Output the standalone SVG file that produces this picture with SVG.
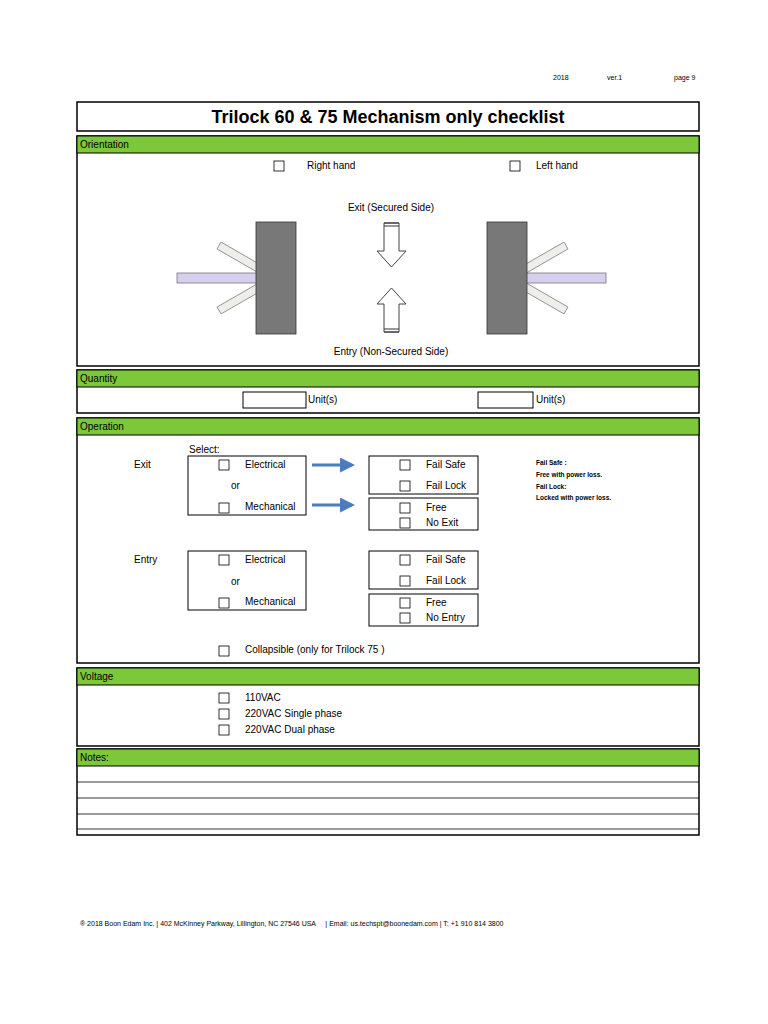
<svg xmlns="http://www.w3.org/2000/svg" width="768" height="1024" viewBox="0 0 768 1024">
<style>
text{font-family:"Liberation Sans",Arial,sans-serif;font-size:10px;fill:#000}
.s{font-size:7px}
.b{fill:none;stroke:#000;stroke-width:1.5}
.t{fill:none;stroke:#000;stroke-width:1}
.g{fill:#7dc83a;stroke:#000;stroke-width:1}
.cb{fill:#fff;stroke:#000;stroke-width:0.8}
.arm{fill:#eeeeea;stroke:#888;stroke-width:0.8}
.pur{fill:#d6d0ee;stroke:#777;stroke-width:0.8}
.post{fill:#787878;stroke:#333;stroke-width:0.8}
.ar{fill:#fff;stroke:#444;stroke-width:1}
.bl{stroke:#4a7cc0;stroke-width:3}
.n{font-size:6.5px;font-weight:bold}
</style>
<defs>
<rect id="cb" width="10" height="10" class="cb"/>
<marker id="m" markerWidth="5" markerHeight="5" refX="4" refY="2.5" orient="auto" markerUnits="strokeWidth"><path d="M0,0 L5,2.5 L0,5 Z" fill="#4a7cc0"/></marker>
</defs>
<rect width="768" height="1024" fill="#fff"/>
<text class="s" x="553" y="80">2018</text>
<text class="s" x="607" y="80">ver.1</text>
<text class="s" x="674" y="80">page 9</text>
<g id="title"><rect x="77" y="102" width="622" height="29" class="b"/>
<text x="388" y="123" text-anchor="middle" style="font-size:18px;font-weight:bold">Trilock 60 &amp; 75 Mechanism only checklist</text></g>
<g id="orientation">
<rect x="77" y="136" width="622" height="230" class="b"/>
<rect x="77" y="136" width="622" height="17" class="g"/>
<text x="80" y="148">Orientation</text>
<use href="#cb" x="274" y="161"/><text x="307" y="169">Right hand</text>
<use href="#cb" x="510" y="161"/><text x="536" y="169">Left hand</text>
<text x="391" y="211" text-anchor="middle">Exit (Secured Side)</text>
<text x="391" y="355" text-anchor="middle">Entry (Non-Secured Side)</text>
<rect x="-45" y="-4" width="50" height="8" class="arm" transform="translate(258,268) rotate(30)"/>
<rect x="-45" y="-4" width="50" height="8" class="arm" transform="translate(258,288) rotate(-30)"/>
<rect x="177" y="273" width="82" height="10" class="pur"/>
<rect x="256" y="222" width="40" height="112" class="post"/>
<rect x="-5" y="-4" width="50" height="8" class="arm" transform="translate(527,268) rotate(-30)"/>
<rect x="-5" y="-4" width="50" height="8" class="arm" transform="translate(527,288) rotate(30)"/>
<rect x="526" y="273" width="80" height="10" class="pur"/>
<rect x="487" y="222" width="40" height="112" class="post"/>
<path d="M384,223 H399 V251 H406 L391.5,267 L377,251 H384 Z" class="ar"/>
<path d="M384,223 H399 M384,226 H399" stroke="#333"/>
<path d="M384,332 H399 V304 H406 L391.5,288 L377,304 H384 Z" class="ar"/>
<path d="M384,332 H399 M384,329 H399" stroke="#333"/>
</g>
<g id="quantity">
<rect x="77" y="370" width="622" height="43" class="b"/>
<rect x="77" y="370" width="622" height="17" class="g"/>
<text x="80" y="382">Quantity</text>
<rect x="243" y="392" width="63" height="16" class="t"/><text x="308" y="403">Unit(s)</text>
<rect x="478" y="392" width="55" height="16" class="t"/><text x="536" y="403">Unit(s)</text>
</g>
<g id="operation">
<rect x="77" y="418" width="622" height="245" class="b"/>
<rect x="77" y="418" width="622" height="17" class="g"/>
<text x="80" y="430">Operation</text>
<text x="189" y="453">Select:</text>
<text x="134" y="468">Exit</text>
<rect x="188" y="456" width="118" height="59" class="t"/>
<use href="#cb" x="219" y="460"/><text x="245" y="468">Electrical</text>
<text x="231" y="489">or</text>
<use href="#cb" x="219" y="503"/><text x="245" y="510">Mechanical</text>
<rect x="369" y="456" width="109" height="38" class="t"/>
<use href="#cb" x="400" y="460"/><text x="426" y="468">Fail Safe</text>
<use href="#cb" x="400" y="481"/><text x="426" y="489">Fail Lock</text>
<rect x="369" y="498" width="109" height="32" class="t"/>
<use href="#cb" x="400" y="503"/><text x="426" y="511">Free</text>
<use href="#cb" x="400" y="518"/><text x="426" y="526">No Exit</text>
<text class="n" x="536" y="465">Fail Safe :</text>
<text class="n" x="536" y="477">Free with power loss.</text>
<text class="n" x="536" y="489">Fail Lock:</text>
<text class="n" x="536" y="500">Locked with power loss.</text>
<text x="134" y="563">Entry</text>
<rect x="188" y="551" width="118" height="59" class="t"/>
<use href="#cb" x="219" y="555"/><text x="245" y="563">Electrical</text>
<text x="231" y="585">or</text>
<use href="#cb" x="219" y="598"/><text x="245" y="605">Mechanical</text>
<rect x="369" y="551" width="109" height="38" class="t"/>
<use href="#cb" x="400" y="555"/><text x="426" y="563">Fail Safe</text>
<use href="#cb" x="400" y="576"/><text x="426" y="584">Fail Lock</text>
<rect x="369" y="594" width="109" height="32" class="t"/>
<use href="#cb" x="400" y="598"/><text x="426" y="606">Free</text>
<use href="#cb" x="400" y="613"/><text x="426" y="621">No Entry</text>
<use href="#cb" x="219" y="646"/><text x="245" y="653">Collapsible (only for Trilock 75 )</text>
</g>
<g id="connectors">
<line x1="312" y1="465" x2="352" y2="465" class="bl" marker-end="url(#m)"/>
<line x1="312" y1="505" x2="352" y2="505" class="bl" marker-end="url(#m)"/>
</g>
<g id="voltage">
<rect x="77" y="668" width="622" height="78" class="b"/>
<rect x="77" y="668" width="622" height="17" class="g"/>
<text x="80" y="680">Voltage</text>
<use href="#cb" x="219" y="693"/><text x="245" y="701">110VAC</text>
<use href="#cb" x="219" y="709"/><text x="245" y="717">220VAC Single phase</text>
<use href="#cb" x="219" y="725"/><text x="245" y="733">220VAC Dual phase</text>
</g>
<g id="notes">
<rect x="77" y="749" width="622" height="86" class="b"/>
<rect x="77" y="749" width="622" height="17" class="g"/>
<text x="80" y="761">Notes:</text>
<path d="M77,782 H699 M77,798 H699 M77,814 H699 M77,829 H699" stroke="#000" stroke-width="0.8"/>
</g>
<text class="s" x="80" y="926" xml:space="preserve">® 2018 Boon Edam Inc. | 402 McKinney Parkway, Lillington, NC 27546 USA     | Email: us.techspt@boonedam.com | T: +1 910 814 3800</text>
</svg>
